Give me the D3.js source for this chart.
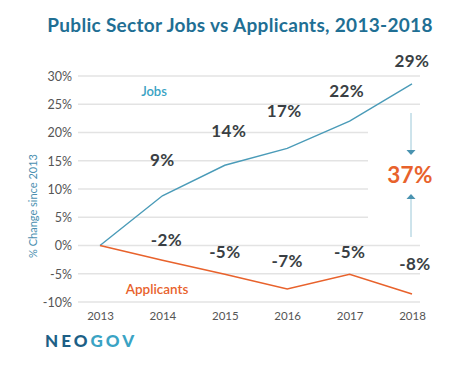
<!DOCTYPE html>
<html><head><meta charset="utf-8">
<script src="https://cdn.jsdelivr.net/npm/d3@7/dist/d3.min.js"></script>
<style>body{margin:0;background:#fff;}svg{display:block;font-family:Lato,"Open Sans",sans-serif;}</style>
</head><body>
<script>
const years = [2013, 2014, 2015, 2016, 2017, 2018];
const jobs = [0, 8.8, 14.2, 17.2, 22.0, 28.6];
const applicants = [0, -2.6, -5.1, -7.7, -5.1, -8.6];
const jobLabels = ["9%", "14%", "17%", "22%", "29%"];
const appLabels = ["-2%", "-5%", "-7%", "-5%", "-8%"];
const yTicks = [-10, -5, 0, 5, 10, 15, 20, 25, 30];
const gapLabel = "37%";

const W = 474, H = 368;
const svg = d3.select("body").append("svg").attr("width", W).attr("height", H);

const x = d3.scalePoint().domain(years).range([100, 412]);
const y = d3.scaleLinear().domain([-10, 30]).range([302, 76]);

// title
svg.append("text").attr("x", 240).attr("y", 32).attr("text-anchor", "middle")
  .attr("font-size", 19).attr("font-weight", 700).attr("letter-spacing", 0.3).attr("fill", "#1f6f94")
  .text("Public Sector Jobs vs Applicants, 2013-2018");

// gridlines
const shortTicks = [5, 10, 15, 20];
svg.append("g").selectAll("line").data(yTicks).join("line")
  .attr("x1", 78).attr("x2", d => shortTicks.includes(d) ? 368 : 420)
  .attr("y1", d => y(d)).attr("y2", d => y(d))
  .attr("stroke", "#e3e3e3").attr("stroke-width", 1.3);

// y axis labels
const yAxis = d3.axisLeft(y).tickValues(yTicks).tickSize(0).tickPadding(0).tickFormat(d => d + "%");
const gy = svg.append("g").attr("transform", "translate(72,0)").call(yAxis);
gy.select(".domain").remove();
gy.selectAll("text").attr("font-size", 12.5).attr("fill", "#555").attr("font-family", "Lato, sans-serif").attr("dy", "0.35em");

// x axis labels
const xAxis = d3.axisBottom(x).tickSize(0).tickPadding(0).tickFormat(d => String(d));
const gx = svg.append("g").attr("transform", "translate(0,312)").call(xAxis);
gx.select(".domain").remove();
gx.selectAll("text").attr("font-size", 11.5).attr("fill", "#555").attr("font-family", "Lato, sans-serif").attr("dy", "0.7em");

// y axis title
svg.append("text").attr("transform", "translate(37,206) rotate(-90)").attr("text-anchor", "middle")
  .attr("font-size", 11).attr("fill", "#4b8fb0").text("% Change since 2013");

// lines
const line = d3.line().x((d, i) => x(years[i])).y(d => y(d));
svg.append("path").datum(jobs).attr("d", line).attr("fill", "none").attr("stroke", "#4a9bb8").attr("stroke-width", 1.4);
svg.append("path").datum(applicants).attr("d", line).attr("fill", "none").attr("stroke", "#e8622c").attr("stroke-width", 1.6);

// series names
svg.append("text").attr("x", 154).attr("y", 96).attr("text-anchor", "middle")
  .attr("font-size", 13).attr("font-weight", 600).attr("fill", "#3aa3c4").text("Jobs");
svg.append("text").attr("x", 157).attr("y", 294).attr("text-anchor", "middle")
  .attr("font-size", 13.5).attr("font-weight", 600).attr("fill", "#e8622c").text("Applicants");

// value labels
const jobOff = [-30, -28, -31, -24, -17];
svg.append("g").selectAll("text").data(jobLabels).join("text")
  .attr("x", (d, i) => x(years[i + 1]) + [0, 4, -3, -3, 0][i])
  .attr("y", (d, i) => y(jobs[i + 1]) + jobOff[i])
  .attr("text-anchor", "middle").attr("font-size", 17).attr("font-weight", 700).attr("letter-spacing", 0.4).attr("fill", "#3a3f44")
  .text(d => d);
const appY = [246, 258, 267, 258, 270];
svg.append("g").selectAll("text").data(appLabels).join("text")
  .attr("x", (d, i) => x(years[i + 1]) + [4, 0, 0, 0, 3][i])
  .attr("y", (d, i) => y(applicants[i + 1]) - (y(applicants[i + 1]) - appY[i]))
  .attr("text-anchor", "middle").attr("font-size", 17).attr("font-weight", 700).attr("letter-spacing", 0.4).attr("fill", "#3a3f44")
  .text(d => d);

// gap annotation
const ax = 411;
svg.append("line").attr("x1", ax).attr("x2", ax).attr("y1", 113).attr("y2", 150).attr("stroke", "#9cc8d8").attr("stroke-width", 1);
svg.append("path").attr("d", `M${ax-4.5},150 L${ax+4.5},150 L${ax},155 Z`).attr("fill", "#4a93b0");
svg.append("line").attr("x1", ax).attr("x2", ax).attr("y1", 199).attr("y2", 237).attr("stroke", "#9cc8d8").attr("stroke-width", 1);
svg.append("path").attr("d", `M${ax-4.5},199 L${ax+4.5},199 L${ax},194 Z`).attr("fill", "#4a93b0");
svg.append("text").attr("x", 410).attr("y", 183).attr("text-anchor", "middle")
  .attr("font-size", 22.5).attr("font-weight", 700).attr("letter-spacing", 0.3).attr("fill", "#e8622c").text(gapLabel);

// logo
const logo = svg.append("text").attr("x", 45).attr("y", 347).attr("font-size", 17).attr("font-weight", 900).attr("letter-spacing", 3);
logo.append("tspan").attr("fill", "#1d5f86").text("NEO");
logo.append("tspan").attr("fill", "#3aa3c4").text("GOV");
</script>
</body></html>
